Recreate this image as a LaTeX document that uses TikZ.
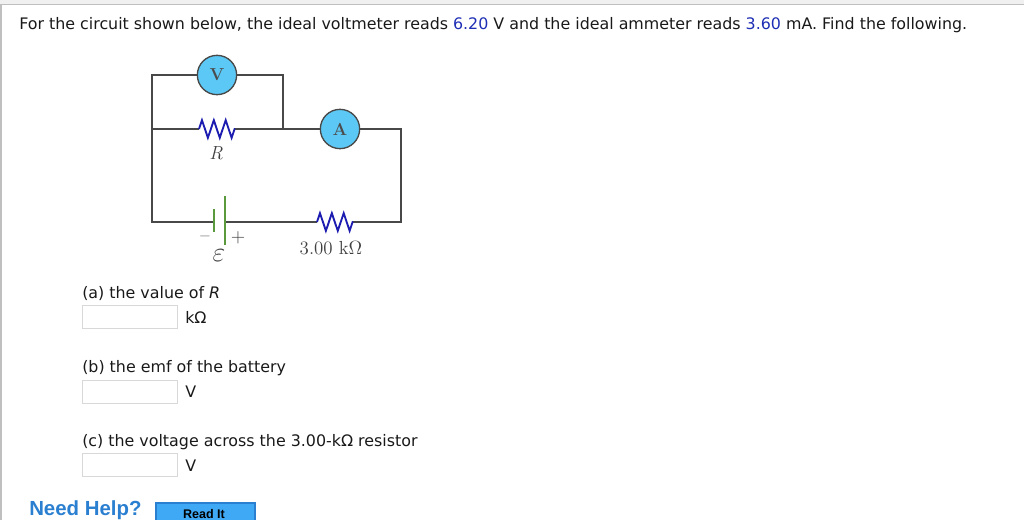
\documentclass[tikz,border=0pt]{standalone}
\usepackage{fontspec}
\setsansfont{DejaVu Sans}
\newfontfamily\helpfont{Liberation Sans}
\usetikzlibrary{decorations.pathmorphing}
\definecolor{wirecol}{HTML}{484848}
\definecolor{metercol}{HTML}{5CC8F5}
\definecolor{rescol}{HTML}{1C1CB0}
\definecolor{platecol}{HTML}{5A9A3C}
\definecolor{numcol}{HTML}{1F2FB5}
\definecolor{boxcol}{HTML}{D8D8D8}
\definecolor{helpcol}{HTML}{2A7FD0}
\definecolor{btncol}{HTML}{3FA9F5}
\tikzset{
	txt/.style={anchor=base west,inner sep=0pt,font=\sffamily\fontsize{11.9}{14}\selectfont,text=black!90},
	lbl/.style={inner sep=0pt,text=black!75,font=\fontsize{14.2}{16}\selectfont},
	wire/.style={draw=wirecol,line width=1.15pt},
	meter/.style={circle,draw=wirecol,line width=1pt,fill=metercol,minimum size=29.5pt,inner sep=0pt,font=\bfseries\fontsize{13}{15}\selectfont,text=black!70},
	resistor/.style={draw=rescol,line width=1.4pt,decorate,decoration={zigzag,segment length=8.9pt,amplitude=6.6pt}},
	plate/.style={draw=platecol,line width=2.2pt},
	ansbox/.style={draw=boxcol,line width=0.8pt,fill=white,minimum width=71pt,minimum height=17.5pt,inner sep=0pt,anchor=north west}
}
\begin{document}
\begin{tikzpicture}[x=0.75pt,y=-0.75pt]
	\useasboundingbox (0,0) rectangle (1024,520);
	\clip (0,0) rectangle (1024,520);
	\fill[black!6] (0,0) rectangle (1024,4);% strip at the top
	\draw[black!25,line width=0.8pt] (1,520) -- (1,4.5) -- (1024,4.5);% page border
	% wording of the question
	\node[txt] (intro) at (19,30) {For the circuit shown below, the ideal voltmeter reads \textcolor{numcol}{6.20} V and the ideal ammeter reads \textcolor{numcol}{3.60} mA. Find the following.};
	% corners and ends of the circuit
	\coordinate (tl) at (152,75);
	\coordinate (tr) at (283,75);
	\coordinate (ml) at (152,129);
	\coordinate (mm) at (283,129);
	\coordinate (mr) at (401,129);
	\coordinate (bl) at (152,222);
	\coordinate (br) at (401,222);
	\coordinate (rin) at (199,129);
	\coordinate (rout) at (235,129);
	\coordinate (sin) at (317,222);
	\coordinate (sout) at (353,222);
	\coordinate (minusend) at (214,222);
	\coordinate (plusend) at (225,222);
	\coordinate (shorttop) at (214,209);
	\coordinate (shortbot) at (214,232);
	\coordinate (longtop) at (225,196);
	\coordinate (longbot) at (225,245);
	\node[meter] (volt) at (217,75) {V};
	\node[meter] (amp) at (340,129) {A};
	% wires
	\draw[wire] (volt) -- (tl) -- (bl) -- (minusend);
	\draw[wire] (volt) -- (tr) -- (mm);
	\draw[wire] (ml) -- (rin);
	\draw[wire] (rout) -- (amp);
	\draw[wire] (amp) -- (mr) -- (br) -- (sout);
	\draw[wire] (sin) -- (plusend);
	\draw[resistor] (rin) -- (rout);
	\draw[resistor] (sin) -- (sout);
	\draw[plate] (shorttop) -- (shortbot);
	\draw[plate] (longtop) -- (longbot);
	% labels of the circuit
	\node[lbl] (rlabel) at (216,153) {\textit{R}};
	\node[lbl,text=black!90] (minus) at (205,239) {--};
	\node[lbl] (plus) at (238,238) {+};
	\node[lbl,font=\fontsize{21}{23}\selectfont] (emf) at (219,256) {$\varepsilon$};
	\node[lbl] (slabel) at (331,248) {3.00 k$\Omega$};
	% parts (a), (b), (c)
	\node[txt] (parta) at (82,298) {(a) the value of \textit{R}};
	\node[ansbox] (boxa) at (82,305) {};
	\node[txt] (unita) at (185,323) {kΩ};
	\node[txt] (partb) at (82,372) {(b) the emf of the battery};
	\node[ansbox] (boxb) at (82,380) {};
	\node[txt] (unitb) at (185,397) {V};
	\node[txt] (partc) at (82,446) {(c) the voltage across the 3.00-kΩ resistor};
	\node[ansbox] (boxc) at (82,453) {};
	\node[txt] (unitc) at (185,471) {V};
	% help line at the bottom
	\node[anchor=base west,inner sep=0pt,text=helpcol,font=\helpfont\bfseries\fontsize{15.3}{17}\selectfont] (help) at (29,515.5) {Need Help?};
	\node[anchor=north west,draw=helpcol,line width=1.4pt,fill=btncol,minimum width=74pt,minimum height=20pt,inner sep=0pt] (btn) at (155,502) {};
	\node[anchor=base,inner sep=0pt,text=black,font=\helpfont\bfseries\fontsize{9.4}{11}\selectfont] (btntext) at (204,518) {Read It};
\end{tikzpicture}
\end{document}
